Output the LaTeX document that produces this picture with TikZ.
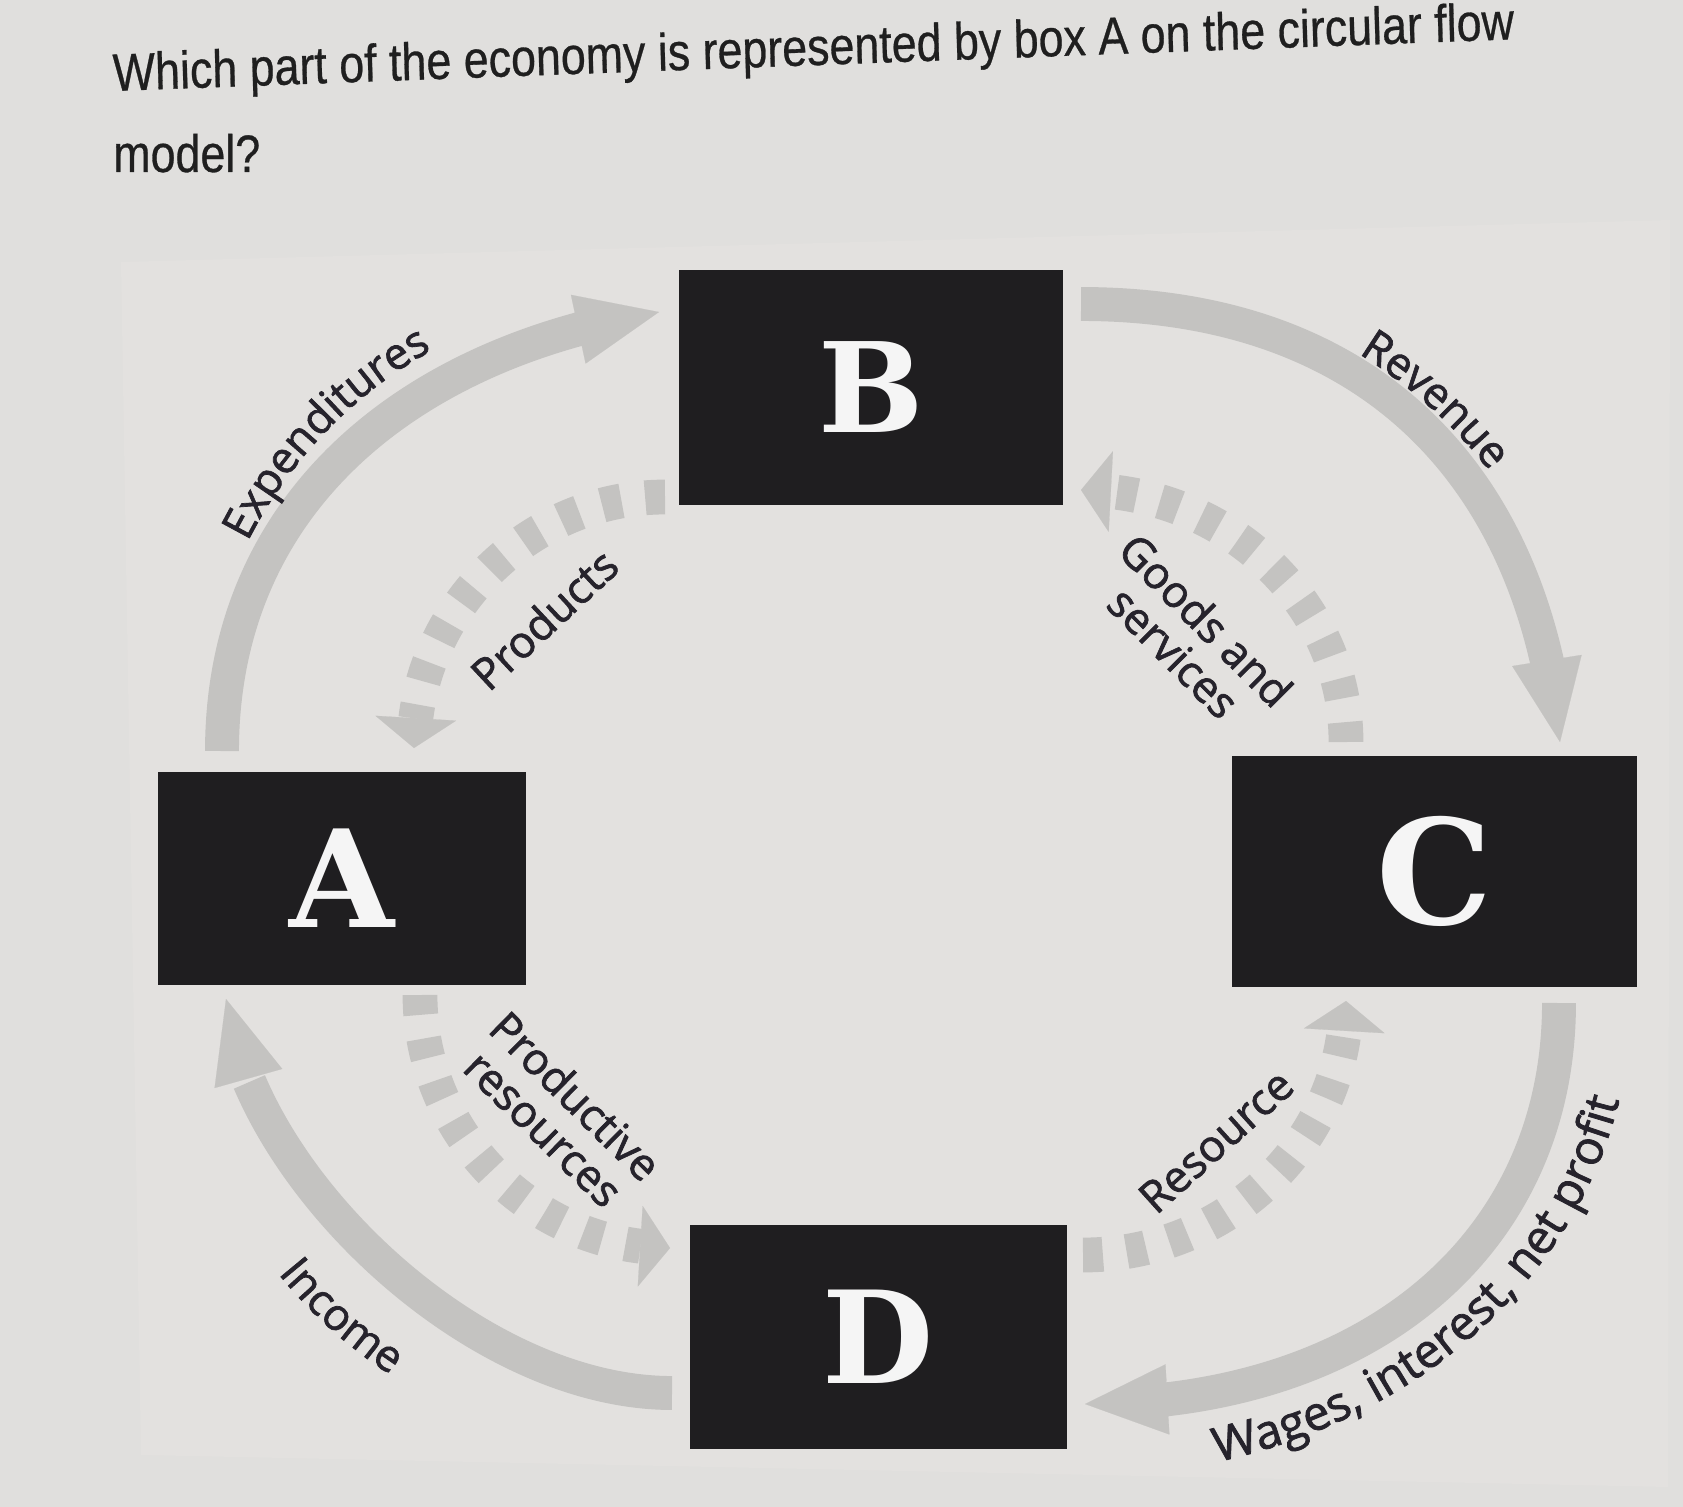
\documentclass[tikz,border=0pt]{standalone}
\usepackage{fontspec}
\usetikzlibrary{arrows.meta,bending,decorations.text}
\newfontfamily\ttlfam{Liberation Sans}[FakeBold=0.6]
\newfontfamily\lblfam{Open Sans}[FakeBold=1.6]
\newfontfamily\boxfam{DejaVu Serif}
\definecolor{paper}{RGB}{224,223,221}
\definecolor{panel}{RGB}{227,225,223}
\definecolor{flow}{RGB}{196,195,193}
\definecolor{ink}{RGB}{38,35,44}
\definecolor{boxfill}{RGB}{31,30,32}
\newcommand\lblsize{\fontsize{25}{26}\selectfont}
\begin{document}
\begin{tikzpicture}[x=0.02cm, y=-0.02cm,
		ttl/.style={text=black!88, font=\ttlfam\fontsize{30}{34}\selectfont, inner sep=0pt, xscale=0.85},
		sector/.style={fill=boxfill, text=white!96!black, inner sep=0pt, font=\boxfam\bfseries\fontsize{#1}{#1}\selectfont},
		lbl/.style={text=ink, font=\lblfam\lblsize, align=center, inner sep=0pt},
		outflow/.style={draw=flow, line width=19.3pt, -{Triangle[width=40pt,length=47pt,line width=0.1pt]}},
		inflow/.style={draw=flow, line width=19.8pt, dash pattern=on 11.3pt off 13.6pt, -{Triangle[width=46pt,length=17pt,line width=0.1pt]}}]
		\useasboundingbox (0,0) rectangle (1683,1507);
		\fill [paper] (0,0) rectangle (1683,1507);
		\fill [panel] (121,262) -- (1670,220) -- (1668,1487) -- (141,1455) -- cycle;
		
		\node (title) at (113,91) [anchor=base west, ttl, rotate=1.8] {Which part of the economy is represented by box A on the circular flow};
		\node (model) at (113,172) [anchor=base west, ttl] {model?};
		
		\node (A) at (342,878.5) [sector=77, minimum width=209.8pt, minimum height=120.7pt] {A};
		\node (B) at (871,387.5) [sector=71, minimum width=218.8pt, minimum height=133.2pt] {B};
		\node (C) at (1434.5,871.5) [sector=83, minimum width=230.7pt, minimum height=131pt] {C};
		\node (D) at (878.5,1337) [sector=73, minimum width=214.9pt, minimum height=127pt] {D};
		
		\coordinate (expS) at (222,751);
		\coordinate (expE) at (659,312);
		\coordinate (revS) at (1081,304);
		\coordinate (revE) at (1560,742);
		\coordinate (wagS) at (1559,1003);
		\coordinate (wagE) at (1085,1404);
		\coordinate (incS) at (672,1393);
		\coordinate (incE) at (226,999);
		
		\draw [outflow] (expS) .. controls +(0,-250) and +(-247,39) .. (expE);
		\draw [outflow] (revS) .. controls +(290,0) and +(-27,-265) .. (revE);
		\draw [outflow] (wagS) .. controls +(0,240) and +(285,0) .. (wagE);
		\draw [outflow] (incS) .. controls +(-200,0) and +(22,177) .. (incE);
		
		\coordinate (prodS) at (665,497);
		\coordinate (prodE) at (414,748);
		\coordinate (goodS) at (1346,742);
		\coordinate (goodE) at (1081,490);
		\coordinate (resS) at (1083,1255);
		\coordinate (resE) at (1346,1001);
		\coordinate (prresS) at (420,995);
		\coordinate (prresE) at (670,1248);
		
		\draw [inflow] (prodS) .. controls +(-137,0) and +(0,-137) .. (prodE);
		\draw [inflow] (goodS) .. controls +(0,-139) and +(146,0) .. (goodE);
		\draw [inflow] (resS) .. controls +(145,0) and +(0,140) .. (resE);
		\draw [inflow] (prresS) .. controls +(0,139) and +(-137,0) .. (prresE);
		
		\path [decorate, decoration={text along path, text align=center, text={|\color{ink}\lblfam\lblsize|Expenditures}}]
			(198,751) arc [start angle=180, end angle=270, x radius=442, y radius=454];
		\path [decorate, decoration={text along path, text align=center, text={|\color{ink}\lblfam\lblsize|Revenue}}]
			(1081,276) arc [start angle=270, end angle=360, x radius=502, y radius=466];
		\path [decorate, decoration={text along path, text align=center, text={|\color{ink}\lblfam\fontsize{27}{28}\selectfont|Wages, interest, net profit}}]
			(1042,1474.5) arc [start angle=94.5, end angle=-9.5, x radius=546, y radius=473];
		\path [decorate, decoration={text along path, text align=center, text={|\color{ink}\lblfam\lblsize|Income}}]
			(180,999) arc [start angle=180, end angle=90, x radius=492, y radius=458];
		
		\node (prodLbl) at (544,619) [lbl, rotate=43] {Products};
		\node (goodLbl) at (1190,636) [lbl, rotate=-45] {Goods and\\services};
		\node (resLbl) at (1216,1141) [lbl, rotate=42] {Resource};
		\node (prresLbl) at (560,1112) [lbl, rotate=-44.5] {Productive\\resources};
\end{tikzpicture}
\end{document}
